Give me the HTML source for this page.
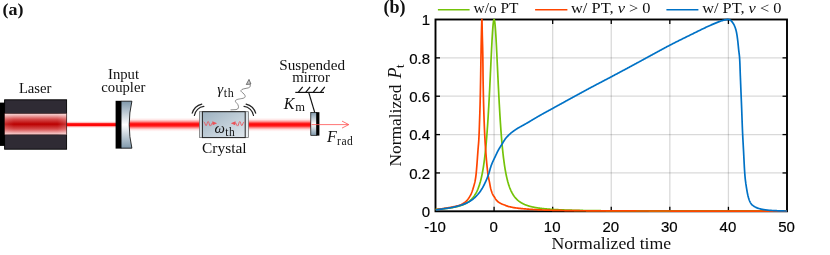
<!DOCTYPE html>
<html><head><meta charset="utf-8"><title>Figure</title>
<style>
html,body{margin:0;padding:0;background:#fff;}
svg{display:block;}
</style></head><body>
<svg width="830" height="255" viewBox="0 0 830 255">
<rect width="830" height="255" fill="#fff"/>
<defs>
<linearGradient id="tube" x1="0" y1="0" x2="0" y2="1">
<stop offset="0" stop-color="#f9dcdc"/><stop offset="0.1" stop-color="#eeaaaa"/><stop offset="0.27" stop-color="#d64c4c"/><stop offset="0.5" stop-color="#ba0000"/><stop offset="0.73" stop-color="#d64c4c"/><stop offset="0.9" stop-color="#eeaaaa"/><stop offset="1" stop-color="#f9dcdc"/>
</linearGradient>
<linearGradient id="tubeh" x1="0" y1="0" x2="1" y2="0">
<stop offset="0" stop-color="#fff" stop-opacity="0.15"/><stop offset="0.15" stop-color="#fff" stop-opacity="0"/><stop offset="0.85" stop-color="#fff" stop-opacity="0"/><stop offset="1" stop-color="#fff" stop-opacity="0.2"/>
</linearGradient>
<linearGradient id="beam" x1="0" y1="0" x2="0" y2="1">
<stop offset="0" stop-color="#ff0808" stop-opacity="0"/><stop offset="0.14" stop-color="#ff0808" stop-opacity="0.1"/><stop offset="0.28" stop-color="#ff0808" stop-opacity="0.45"/><stop offset="0.4" stop-color="#ff0808" stop-opacity="0.9"/><stop offset="0.5" stop-color="#ff0808" stop-opacity="1"/><stop offset="0.6" stop-color="#ff0808" stop-opacity="0.9"/><stop offset="0.72" stop-color="#ff0808" stop-opacity="0.45"/><stop offset="0.86" stop-color="#ff0808" stop-opacity="0.1"/><stop offset="1" stop-color="#ff0808" stop-opacity="0"/>
</linearGradient>
<linearGradient id="glass" x1="0" y1="0" x2="0" y2="1">
<stop offset="0" stop-color="#7f98ab"/><stop offset="0.5" stop-color="#ffffff"/><stop offset="1" stop-color="#7f98ab"/>
</linearGradient>
<linearGradient id="cryst" x1="0" y1="0" x2="1" y2="1">
<stop offset="0" stop-color="#9db1c0"/><stop offset="1" stop-color="#dfe7ed"/>
</linearGradient>
</defs>
<g id="diagram">
<!-- beams -->
<rect x="66" y="121" width="56" height="7.4" fill="url(#beam)"/>
<rect x="66" y="123.4" width="56" height="2.6" fill="#ff0808"/>
<rect x="129" y="117.7" width="183" height="14" fill="url(#beam)"/>
<!-- laser -->
<rect x="0" y="102.6" width="5" height="43.3" fill="#000"/>
<rect x="4.6" y="99.8" width="62" height="49.4" fill="#2f2b34" stroke="#000" stroke-width="0.9"/>
<rect x="4.6" y="113.5" width="62" height="21.3" fill="url(#tube)" stroke="#2a0000" stroke-width="0.5"/>
<rect x="4.6" y="113.5" width="62" height="21.3" fill="url(#tubeh)"/>
<!-- coupler -->
<path d="M121,101.2 L131.9,101.2 Q126.5,124.7 131.9,148.2 L121,148.2 Z" fill="url(#glass)" stroke="#000" stroke-width="0.8"/>
<rect x="115.6" y="100.8" width="5.5" height="47.8" fill="#000"/>
<!-- crystal -->
<rect x="199.5" y="111.7" width="49" height="25.9" fill="#fff"/>
<rect x="199.5" y="111.7" width="49" height="25.9" fill="url(#cryst)" fill-opacity="0.55" stroke="#666" stroke-width="0.7"/>
<rect x="202.4" y="111.7" width="42.8" height="25.9" fill="url(#cryst)" stroke="#222" stroke-width="1"/>
<g stroke="#ea5258" stroke-width="0.9" fill="none" stroke-linecap="round">
<path d="M204.1,121.9 C205,121.9 205.2,125.7 206.1,125.7 S207.2,121.5 208.1,121.5 S209.4,126.1 210.3,126.1 S211.5,122.2 212.7,122.8"/>
<path d="M243.8,121.9 C242.9,121.9 242.7,125.7 241.8,125.7 S240.7,121.5 239.8,121.5 S238.5,126.1 237.6,126.1 S236.4,122.2 235.2,122.8"/>
</g>
<path d="M212.3,121.2 L217.1,123.2 L212.7,125.3 Z" fill="#ea5258"/>
<path d="M235.6,121.2 L230.8,123.2 L235.2,125.3 Z" fill="#ea5258"/>
<g stroke="#222" stroke-width="1.2" fill="none" stroke-linecap="round">
<path d="M192.2,113.2 A13.3,13.3 0 0 1 201.8,104.1"/>
<path d="M194.4,115.5 A10.7,10.7 0 0 1 203.9,106.4"/>
<path d="M255.7,113.2 A13.3,13.3 0 0 0 246.1,104.1"/>
<path d="M253.5,115.5 A10.7,10.7 0 0 0 244.0,106.4"/>
</g>
<path d="M230.5,109.9 L236,109.6 C238.5,109.4 239.2,107 237.8,104.5 C236.8,102.8 235,102 235.4,100.8 C235.9,99.2 240,99 243,98.3 C245.6,97.6 245.8,96.2 244,94 C242.6,92.4 240.6,91.8 241,90.5 C241.5,88.8 245.5,88.6 248.3,87.9 C250.6,87.2 250.8,85.5 249.6,83.4" fill="none" stroke="#5a5a5a" stroke-width="0.7"/>
<path d="M246.3,84.5 L249,79.4 L250.9,84 Z" fill="#c8c8c8" stroke="#555" stroke-width="0.8" stroke-linejoin="round"/>
<!-- mirror -->
<rect x="310.8" y="112.5" width="6" height="22.8" fill="url(#glass)" stroke="#000" stroke-width="0.7"/>
<rect x="316.4" y="112.2" width="3" height="23.4" fill="#000"/>
<g stroke="#111" stroke-width="1.2" fill="none">
<line x1="295.3" y1="92.4" x2="324" y2="92.4"/>
<line x1="298.3" y1="92.4" x2="302.7" y2="86.8"/>
<line x1="305.7" y1="92.4" x2="310.1" y2="86.8"/>
<line x1="313.2" y1="92.4" x2="317.6" y2="86.8"/>
<line x1="320.4" y1="92.4" x2="324.8" y2="86.8"/>
<line x1="308.7" y1="92.4" x2="314.7" y2="112.3"/>
</g>
<g stroke="#ff5050" stroke-width="0.8" fill="none">
<line x1="311.5" y1="124.6" x2="348.6" y2="124.6"/>
<path d="M342,121.1 L348.8,124.6 L342,128.1"/>
</g>
<!-- labels -->
<g font-family="'Liberation Serif', 'Times New Roman', serif" fill="#111" font-size="14.7px">
<text x="2.4" y="14.7" font-size="17.5px" font-weight="bold" textLength="21" lengthAdjust="spacingAndGlyphs">(a)</text>
<text x="35.2" y="92.6" text-anchor="middle">Laser</text>
<text x="123.5" y="78.9" text-anchor="middle">Input</text>
<text x="123.3" y="91.7" text-anchor="middle">coupler</text>
<text x="224.3" y="152.5" text-anchor="middle" font-size="15.4px">Crystal</text>
<text x="312.1" y="69.6" text-anchor="middle" font-size="15.2px">Suspended</text>
<text x="311.1" y="82" text-anchor="middle">mirror</text>
<text x="217.3" y="94.2" font-size="15px"><tspan font-style="italic">γ</tspan><tspan dy="2.6" dx="0.6" font-size="12px" letter-spacing="0.7">th</tspan></text>
<text x="214.4" y="132.6" font-size="15px"><tspan font-style="italic" textLength="10.4" lengthAdjust="spacingAndGlyphs">ω</tspan><tspan dy="3" dx="0.5" font-size="11.5px" letter-spacing="0.6">th</tspan></text>
<text x="283.8" y="109.4" font-size="16px"><tspan font-style="italic">K</tspan><tspan dy="2" dx="0.8" font-size="12.5px">m</tspan></text>
<text x="326.9" y="142.3" font-size="16px"><tspan font-style="italic">F</tspan><tspan dy="2.4" dx="0.4" font-size="11.5px" letter-spacing="0.5">rad</tspan></text>
</g>
</g>


<g id="chart">
<g stroke="#000" stroke-opacity="0.15" stroke-width="1.3"><line x1="494.08" y1="19.5" x2="494.08" y2="211.3"/><line x1="552.67" y1="19.5" x2="552.67" y2="211.3"/><line x1="611.25" y1="19.5" x2="611.25" y2="211.3"/><line x1="669.83" y1="19.5" x2="669.83" y2="211.3"/><line x1="728.42" y1="19.5" x2="728.42" y2="211.3"/><line x1="435.5" y1="172.94" x2="787.0" y2="172.94"/><line x1="435.5" y1="134.58" x2="787.0" y2="134.58"/><line x1="435.5" y1="96.22" x2="787.0" y2="96.22"/><line x1="435.5" y1="57.86" x2="787.0" y2="57.86"/></g>
<rect x="435.5" y="19.5" width="351.50" height="191.80" fill="none" stroke="#000" stroke-width="1.9"/>
<g stroke="#000" stroke-width="1.3"><line x1="494.08" y1="211.3" x2="494.08" y2="206.8"/><line x1="494.08" y1="19.5" x2="494.08" y2="24.0"/><line x1="552.67" y1="211.3" x2="552.67" y2="206.8"/><line x1="552.67" y1="19.5" x2="552.67" y2="24.0"/><line x1="611.25" y1="211.3" x2="611.25" y2="206.8"/><line x1="611.25" y1="19.5" x2="611.25" y2="24.0"/><line x1="669.83" y1="211.3" x2="669.83" y2="206.8"/><line x1="669.83" y1="19.5" x2="669.83" y2="24.0"/><line x1="728.42" y1="211.3" x2="728.42" y2="206.8"/><line x1="728.42" y1="19.5" x2="728.42" y2="24.0"/><line x1="435.5" y1="172.94" x2="440.0" y2="172.94"/><line x1="787.0" y1="172.94" x2="782.5" y2="172.94"/><line x1="435.5" y1="134.58" x2="440.0" y2="134.58"/><line x1="787.0" y1="134.58" x2="782.5" y2="134.58"/><line x1="435.5" y1="96.22" x2="440.0" y2="96.22"/><line x1="787.0" y1="96.22" x2="782.5" y2="96.22"/><line x1="435.5" y1="57.86" x2="440.0" y2="57.86"/><line x1="787.0" y1="57.86" x2="782.5" y2="57.86"/></g>
<g fill="none" stroke-width="1.7" stroke-linejoin="round">
<path stroke="#74C309" d="M435.50,209.40 L435.73,209.39 L435.97,209.37 L436.20,209.36 L436.44,209.34 L436.67,209.32 L436.91,209.31 L437.14,209.29 L437.38,209.27 L437.61,209.26 L437.84,209.24 L438.08,209.22 L438.31,209.21 L438.55,209.19 L438.78,209.17 L439.02,209.15 L439.25,209.14 L439.49,209.12 L439.72,209.10 L439.96,209.08 L440.19,209.06 L440.42,209.04 L440.66,209.02 L440.89,209.00 L441.13,208.98 L441.36,208.96 L441.60,208.94 L441.83,208.92 L442.07,208.90 L442.30,208.88 L442.53,208.85 L442.77,208.83 L443.00,208.81 L443.24,208.79 L443.47,208.76 L443.71,208.74 L443.94,208.72 L444.18,208.69 L444.41,208.67 L444.65,208.64 L444.88,208.62 L445.11,208.59 L445.35,208.57 L445.58,208.54 L445.82,208.52 L446.05,208.49 L446.29,208.46 L446.52,208.43 L446.76,208.41 L446.99,208.38 L447.22,208.35 L447.46,208.32 L447.69,208.29 L447.93,208.26 L448.16,208.23 L448.40,208.20 L448.63,208.17 L448.87,208.13 L449.10,208.10 L449.33,208.07 L449.57,208.03 L449.80,208.00 L450.04,207.97 L450.27,207.93 L450.51,207.89 L450.74,207.86 L450.98,207.82 L451.21,207.78 L451.45,207.75 L451.68,207.71 L451.91,207.67 L452.15,207.63 L452.38,207.59 L452.62,207.55 L452.85,207.50 L453.09,207.46 L453.32,207.42 L453.56,207.37 L453.79,207.33 L454.02,207.28 L454.26,207.24 L454.49,207.19 L454.73,207.14 L454.96,207.09 L455.20,207.04 L455.43,206.99 L455.67,206.94 L455.90,206.89 L456.14,206.84 L456.37,206.78 L456.60,206.73 L456.84,206.67 L457.07,206.61 L457.31,206.55 L457.54,206.49 L457.78,206.43 L458.01,206.37 L458.25,206.31 L458.48,206.24 L458.71,206.18 L458.95,206.11 L459.18,206.04 L459.42,205.97 L459.65,205.90 L459.89,205.83 L460.12,205.76 L460.36,205.68 L460.59,205.61 L460.82,205.53 L461.06,205.45 L461.29,205.37 L461.53,205.28 L461.76,205.20 L462.00,205.11 L462.23,205.02 L462.47,204.93 L462.70,204.84 L462.94,204.75 L463.17,204.65 L463.40,204.55 L463.64,204.45 L463.87,204.35 L464.11,204.24 L464.34,204.14 L464.58,204.03 L464.81,203.91 L465.05,203.80 L465.28,203.68 L465.51,203.56 L465.75,203.44 L465.98,203.31 L466.22,203.18 L466.45,203.05 L466.69,202.91 L466.92,202.77 L467.16,202.63 L467.39,202.49 L467.63,202.34 L467.86,202.18 L468.09,202.03 L468.33,201.86 L468.56,201.70 L468.80,201.53 L469.03,201.35 L469.27,201.18 L469.50,200.99 L469.74,200.80 L469.97,200.61 L470.20,200.41 L470.44,200.21 L470.67,200.00 L470.91,199.78 L471.14,199.56 L471.38,199.33 L471.61,199.09 L471.85,198.85 L472.08,198.60 L472.31,198.35 L472.55,198.08 L472.78,197.81 L473.02,197.53 L473.25,197.24 L473.49,196.94 L473.72,196.64 L473.96,196.32 L474.19,195.99 L474.43,195.66 L474.66,195.31 L474.89,194.95 L475.13,194.58 L475.36,194.19 L475.60,193.79 L475.83,193.38 L476.07,192.96 L476.30,192.52 L476.54,192.07 L476.77,191.60 L477.00,191.11 L477.24,190.60 L477.47,190.08 L477.71,189.54 L477.94,188.97 L478.18,188.39 L478.41,187.78 L478.65,187.16 L478.88,186.50 L479.12,185.82 L479.35,185.12 L479.58,184.38 L479.82,183.62 L480.05,182.82 L480.29,182.00 L480.52,181.14 L480.76,180.24 L480.99,179.30 L481.23,178.33 L481.46,177.31 L481.69,176.25 L481.93,175.14 L482.16,173.98 L482.40,172.78 L482.63,171.51 L482.87,170.19 L483.10,168.81 L483.34,167.37 L483.57,165.85 L483.80,164.27 L484.04,162.61 L484.27,160.88 L484.51,159.06 L484.74,157.15 L484.98,155.15 L485.21,153.06 L485.45,150.86 L485.68,148.56 L485.92,146.15 L486.15,143.62 L486.38,140.97 L486.62,138.19 L486.85,135.28 L487.09,132.24 L487.32,129.05 L487.56,125.72 L487.79,122.24 L488.03,118.61 L488.26,114.82 L488.49,110.88 L488.73,106.79 L488.96,102.55 L489.20,98.17 L489.43,93.65 L489.67,89.00 L489.90,84.24 L490.14,79.39 L490.37,74.46 L490.61,69.49 L490.84,64.51 L491.07,59.54 L491.31,54.64 L491.54,49.86 L491.78,45.23 L492.01,40.81 L492.25,36.67 L492.48,32.85 L492.72,29.42 L492.95,26.42 L493.18,23.91 L493.42,21.94 L493.65,20.53 L493.89,19.71 L494.12,19.51 L494.36,19.92 L494.59,20.93 L494.83,22.53 L495.06,24.69 L495.29,27.37 L495.53,30.51 L495.76,34.08 L496.00,38.02 L496.23,42.26 L496.47,46.75 L496.70,51.44 L496.94,56.27 L497.17,61.19 L497.41,66.17 L497.64,71.15 L497.87,76.11 L498.11,81.01 L498.34,85.84 L498.58,90.56 L498.81,95.17 L499.05,99.65 L499.28,103.98 L499.52,108.17 L499.75,112.21 L499.98,116.10 L500.22,119.83 L500.45,123.42 L500.69,126.85 L500.92,130.13 L501.16,133.27 L501.39,136.27 L501.63,139.13 L501.86,141.87 L502.10,144.48 L502.33,146.97 L502.56,149.34 L502.80,151.61 L503.03,153.77 L503.27,155.83 L503.50,157.80 L503.74,159.67 L503.97,161.46 L504.21,163.17 L504.44,164.81 L504.67,166.37 L504.91,167.85 L505.14,169.28 L505.38,170.64 L505.61,171.94 L505.85,173.18 L506.08,174.38 L506.32,175.52 L506.55,176.61 L506.78,177.66 L507.02,178.66 L507.25,179.62 L507.49,180.54 L507.72,181.43 L507.96,182.28 L508.19,183.09 L508.43,183.88 L508.66,184.63 L508.90,185.36 L509.13,186.05 L509.36,186.72 L509.60,187.37 L509.83,187.99 L510.07,188.59 L510.30,189.16 L510.54,189.72 L510.77,190.26 L511.01,190.77 L511.24,191.27 L511.47,191.75 L511.71,192.22 L511.94,192.67 L512.18,193.10 L512.41,193.52 L512.65,193.93 L512.88,194.32 L513.12,194.70 L513.35,195.07 L513.59,195.42 L513.82,195.77 L514.05,196.10 L514.29,196.43 L514.52,196.74 L514.76,197.04 L514.99,197.34 L515.23,197.62 L515.46,197.90 L515.70,198.17 L515.93,198.43 L516.16,198.69 L516.40,198.93 L516.63,199.17 L516.87,199.41 L517.10,199.63 L517.34,199.85 L517.57,200.07 L517.81,200.28 L518.04,200.48 L518.27,200.68 L518.51,200.87 L518.74,201.05 L518.98,201.24 L519.21,201.41 L519.45,201.59 L519.68,201.75 L519.92,201.92 L520.15,202.08 L520.39,202.23 L520.62,202.39 L520.85,202.53 L521.09,202.68 L521.32,202.82 L521.56,202.96 L521.79,203.09 L522.03,203.22 L522.26,203.35 L522.50,203.48 L522.73,203.60 L522.96,203.72 L523.20,203.84 L523.43,203.95 L523.67,204.06 L523.90,204.17 L524.14,204.28 L524.37,204.38 L524.61,204.49 L524.84,204.59 L525.08,204.68 L525.31,204.78 L525.54,204.87 L525.78,204.96 L526.01,205.05 L526.25,205.14 L526.48,205.23 L526.72,205.31 L526.95,205.39 L527.19,205.48 L527.42,205.55 L527.65,205.63 L527.89,205.71 L528.12,205.78 L528.36,205.86 L528.59,205.93 L528.83,206.00 L529.06,206.07 L529.30,206.13 L529.53,206.20 L529.76,206.27 L530.00,206.33 L530.23,206.39 L530.47,206.45 L530.70,206.51 L530.94,206.57 L531.17,206.63 L531.41,206.69 L531.64,206.74 L531.88,206.80 L532.11,206.85 L532.34,206.91 L532.58,206.96 L532.81,207.01 L533.05,207.06 L533.28,207.11 L533.52,207.16 L533.75,207.21 L533.99,207.25 L534.22,207.30 L534.45,207.34 L534.69,207.39 L534.92,207.43 L535.16,207.48 L535.39,207.52 L535.63,207.56 L535.86,207.60 L536.10,207.64 L536.33,207.68 L536.57,207.72 L536.80,207.76 L537.03,207.80 L537.27,207.83 L537.50,207.87 L537.74,207.91 L537.97,207.94 L538.21,207.98 L538.44,208.01 L538.68,208.05 L538.91,208.08 L539.14,208.11 L539.38,208.14 L539.61,208.18 L539.85,208.21 L540.08,208.24 L540.32,208.27 L540.55,208.30 L540.79,208.33 L541.02,208.36 L541.25,208.39 L541.49,208.41 L541.72,208.44 L541.96,208.47 L542.19,208.50 L542.43,208.52 L542.66,208.55 L542.90,208.58 L543.13,208.60 L543.37,208.63 L543.60,208.65 L543.83,208.68 L544.07,208.70 L544.30,208.73 L544.54,208.75 L544.77,208.77 L545.01,208.79 L545.24,208.82 L545.48,208.84 L545.71,208.86 L545.94,208.88 L546.18,208.90 L546.41,208.93 L546.65,208.95 L546.88,208.97 L547.12,208.99 L547.35,209.01 L547.59,209.03 L547.82,209.05 L548.06,209.07 L548.29,209.09 L548.52,209.10 L548.76,209.12 L548.99,209.14 L549.23,209.16 L549.46,209.18 L549.70,209.20 L549.93,209.21 L550.17,209.23 L550.40,209.25 L550.63,209.26 L550.87,209.28 L551.10,209.30 L551.34,209.31 L551.57,209.33 L551.81,209.34 L552.04,209.36 L552.28,209.38 L552.51,209.39 L552.74,209.41 L552.98,209.42 L553.21,209.44 L553.45,209.45 L553.68,209.46 L553.92,209.48 L554.15,209.49 L554.39,209.51 L554.62,209.52 L554.86,209.53 L555.09,209.55 L555.32,209.56 L555.56,209.57 L555.79,209.59 L556.03,209.60 L556.26,209.61 L556.50,209.62 L556.73,209.64 L556.97,209.65 L557.20,209.66 L557.43,209.67 L557.67,209.69 L557.90,209.70 L558.14,209.71 L558.37,209.72 L558.61,209.73 L558.84,209.74 L559.08,209.75 L559.31,209.77 L559.55,209.78 L559.78,209.79 L560.01,209.80 L560.25,209.81 L560.48,209.82 L560.72,209.83 L560.95,209.84 L561.19,209.85 L561.42,209.86 L561.66,209.87 L561.89,209.88 L562.12,209.89 L562.36,209.90 L562.59,209.91 L562.83,209.92 L563.06,209.93 L563.30,209.94 L563.53,209.94 L563.77,209.95 L564.00,209.96 L564.23,209.97 L564.47,209.98 L564.70,209.99 L564.94,210.00 L565.17,210.01 L565.41,210.01 L565.64,210.02 L565.88,210.03 L566.11,210.04 L566.35,210.05 L566.58,210.06 L566.81,210.06 L567.05,210.07 L567.28,210.08 L567.52,210.09 L567.75,210.09 L567.99,210.10 L568.22,210.11 L568.46,210.12 L568.69,210.12 L568.92,210.13 L569.16,210.14 L569.39,210.15 L569.63,210.15 L569.86,210.16 L570.10,210.17 L570.33,210.17 L570.57,210.18 L570.80,210.19 L571.04,210.19 L571.27,210.20 L571.50,210.21 L571.74,210.21 L571.97,210.22 L572.21,210.23 L572.44,210.23 L572.68,210.24 L572.91,210.25 L573.15,210.25 L573.38,210.26 L573.61,210.26 L573.85,210.27 L574.08,210.28 L574.32,210.28 L574.55,210.29 L574.79,210.29 L575.02,210.30 L575.26,210.31 L575.49,210.31 L575.72,210.32 L575.96,210.32 L576.19,210.33 L576.43,210.33 L576.66,210.34 L576.90,210.34 L577.13,210.35 L577.37,210.36 L577.60,210.36 L577.84,210.37 L578.07,210.37 L578.30,210.38 L578.54,210.38 L578.77,210.39 L579.01,210.39 L579.24,210.40 L579.48,210.40 L579.71,210.41 L579.95,210.41 L580.18,210.42 L580.41,210.42 L580.65,210.43 L580.88,210.43 L581.12,210.43 L581.35,210.44 L581.59,210.44 L581.82,210.45 L582.06,210.45 L582.29,210.46 L582.53,210.46 L582.76,210.47 L582.99,210.47 L583.23,210.48 L583.46,210.48 L583.70,210.48 L583.93,210.49 L584.17,210.49 L584.40,210.50 L584.64,210.50 L584.87,210.50 L585.10,210.51 L585.34,210.51 L585.57,210.52 L585.81,210.52 L586.04,210.52 L586.28,210.53 L586.51,210.53 L586.75,210.54 L586.98,210.54 L587.21,210.54 L587.45,210.55 L587.68,210.55 L587.92,210.56 L588.15,210.56 L588.39,210.56 L588.62,210.57 L588.86,210.57 L589.09,210.57 L589.33,210.58 L589.56,210.58 L589.79,210.58 L590.03,210.59 L590.26,210.59 L590.50,210.59 L590.73,210.60 L590.97,210.60 L591.20,210.60 L591.44,210.61 L591.67,210.61 L591.90,210.61 L592.14,210.62 L592.37,210.62 L592.61,210.62 L592.84,210.63 L593.08,210.63 L593.31,210.63 L593.55,210.64 L593.78,210.64 L594.02,210.64 L594.25,210.65 L594.48,210.65 L594.72,210.65 L594.95,210.66 L595.19,210.66 L595.42,210.66 L595.66,210.66 L595.89,210.67 L596.13,210.67 L596.36,210.67 L596.59,210.68 L596.83,210.68 L597.06,210.68 L597.30,210.68 L597.53,210.69 L597.77,210.69 L598.00,210.69 L598.24,210.70 L598.47,210.70 L598.70,210.70 L598.94,210.70 L599.17,210.71 L599.41,210.71 L599.64,210.71 L599.88,210.71 L600.11,210.72 L600.35,210.72 L600.58,210.72 L600.82,210.72 L601.05,210.73 L601.28,210.73 L601.52,210.73 L601.75,210.73 L601.99,210.74 L602.22,210.74 L602.46,210.74 L602.69,210.74 L602.93,210.75 L603.16,210.75 L603.39,210.75 L603.63,210.75 L603.86,210.76 L604.10,210.76 L604.33,210.76 L604.57,210.76 L604.80,210.76 L605.04,210.77 L605.27,210.77 L605.51,210.77 L605.74,210.77 L605.97,210.78 L606.21,210.78 L606.44,210.78 L606.68,210.78 L606.91,210.78 L607.15,210.79 L607.38,210.79 L607.62,210.79 L607.85,210.79 L608.08,210.79 L608.32,210.80 L608.55,210.80 L608.79,210.80 L609.02,210.80 L609.26,210.81 L609.49,210.81 L609.73,210.81 L609.96,210.81 L610.19,210.81 L610.43,210.81 L610.66,210.82 L610.90,210.82 L611.13,210.82 L611.37,210.82 L611.60,210.82 L611.84,210.83 L612.07,210.83 L612.31,210.83 L612.54,210.83 L612.77,210.83 L613.01,210.84 L613.24,210.84 L613.48,210.84 L613.71,210.84 L613.95,210.84 L614.18,210.84 L614.42,210.85 L614.65,210.85 L614.88,210.85 L615.12,210.85 L615.35,210.85 L615.59,210.86 L615.82,210.86 L616.06,210.86 L616.29,210.86 L616.53,210.86 L616.76,210.86 L616.99,210.87 L617.23,210.87 L617.46,210.87 L617.70,210.87 L617.93,210.87 L618.17,210.87 L618.40,210.88 L618.64,210.88 L618.87,210.88 L619.11,210.88 L619.34,210.88 L619.57,210.88 L619.81,210.88 L620.04,210.89 L620.28,210.89 L620.51,210.89 L620.75,210.89 L620.98,210.89 L621.22,210.89 L621.45,210.90 L621.68,210.90 L621.92,210.90 L622.15,210.90 L622.39,210.90 L622.62,210.90 L622.86,210.90 L623.09,210.91 L623.33,210.91 L623.56,210.91 L623.80,210.91 L624.03,210.91 L624.26,210.91 L624.50,210.91 L624.73,210.92 L624.97,210.92 L625.20,210.92 L625.44,210.92 L625.67,210.92 L625.91,210.92 L626.14,210.92 L626.37,210.92 L626.61,210.93 L626.84,210.93 L627.08,210.93 L627.31,210.93 L627.55,210.93 L627.78,210.93 L628.02,210.93 L628.25,210.94 L628.48,210.94 L628.72,210.94 L628.95,210.94 L629.19,210.94 L629.42,210.94 L629.66,210.94 L629.89,210.94 L630.13,210.94 L630.36,210.95 L630.60,210.95 L630.83,210.95 L631.06,210.95 L631.30,210.95 L631.53,210.95 L631.77,210.95 L632.00,210.95 L632.24,210.96 L632.47,210.96 L632.71,210.96 L632.94,210.96 L633.17,210.96 L633.41,210.96 L633.64,210.96 L633.88,210.96 L634.11,210.96 L634.35,210.97 L634.58,210.97 L634.82,210.97 L635.05,210.97 L635.29,210.97 L635.52,210.97 L635.75,210.97 L635.99,210.97 L636.22,210.97 L636.46,210.98 L636.69,210.98 L636.93,210.98 L637.16,210.98 L637.40,210.98 L637.63,210.98 L637.86,210.98 L638.10,210.98 L638.33,210.98 L638.57,210.99 L638.80,210.99 L639.04,210.99 L639.27,210.99 L639.51,210.99 L639.74,210.99 L639.97,210.99 L640.21,210.99 L640.44,210.99 L640.68,210.99 L640.91,211.00 L641.15,211.00 L641.38,211.00 L641.62,211.00 L641.85,211.00 L642.09,211.00 L642.32,211.00 L642.55,211.00 L642.79,211.00 L643.02,211.00 L643.26,211.00 L643.49,211.01 L643.73,211.01 L643.96,211.01 L644.20,211.01 L644.43,211.01 L644.66,211.01 L644.90,211.01 L645.13,211.01 L645.37,211.01 L645.60,211.01 L645.84,211.01 L646.07,211.02 L646.31,211.02 L646.54,211.02 L646.78,211.02 L647.01,211.02 L647.24,211.02 L647.48,211.02 L647.71,211.02 L647.95,211.02 L648.18,211.02 L648.42,211.02 L648.65,211.02 L648.89,211.03 L649.12,211.03 L649.35,211.03 L649.59,211.03 L649.82,211.03 L650.06,211.03 L650.29,211.03 L650.53,211.03 L650.76,211.03 L651.00,211.03 L651.23,211.03 L651.46,211.03 L651.70,211.04 L651.93,211.04 L652.17,211.04 L652.40,211.04 L652.64,211.04 L652.87,211.04 L653.11,211.04 L653.34,211.04 L653.58,211.04 L653.81,211.04 L654.04,211.04 L654.28,211.04 L654.51,211.04 L654.75,211.05 L654.98,211.05 L655.22,211.05 L655.45,211.05 L655.69,211.05 L655.92,211.05 L656.15,211.05 L656.39,211.05 L656.62,211.05 L656.86,211.05 L657.09,211.05 L657.33,211.05 L657.56,211.05 L657.80,211.05 L658.03,211.06 L658.27,211.06 L658.50,211.06 L658.73,211.06 L658.97,211.06 L659.20,211.06 L659.44,211.06 L659.67,211.06 L659.91,211.06 L660.14,211.06 L660.38,211.06 L660.61,211.06 L660.84,211.06 L661.08,211.06 L661.31,211.06 L661.55,211.07 L661.78,211.07 L662.02,211.07 L662.25,211.07 L662.49,211.07 L662.72,211.07 L662.95,211.07 L663.19,211.07 L663.42,211.07 L663.66,211.07 L663.89,211.07 L664.13,211.07 L664.36,211.07 L664.60,211.07 L664.83,211.07 L665.07,211.08 L665.30,211.08 L665.53,211.08 L665.77,211.08 L666.00,211.08 L666.24,211.08 L666.47,211.08 L666.71,211.08 L666.94,211.08 L667.18,211.08 L667.41,211.08 L667.64,211.08 L667.88,211.08 L668.11,211.08 L668.35,211.08 L668.58,211.08 L668.82,211.08 L669.05,211.09 L669.29,211.09 L669.52,211.09 L669.76,211.09 L669.99,211.09 L670.22,211.09 L670.46,211.09 L670.69,211.09 L670.93,211.09 L671.16,211.09 L671.40,211.09 L671.63,211.09 L671.87,211.09 L672.10,211.09 L672.33,211.09 L672.57,211.09 L672.80,211.09 L673.04,211.09 L673.27,211.10 L673.51,211.10 L673.74,211.10 L673.98,211.10 L674.21,211.10 L674.44,211.10 L674.68,211.10 L674.91,211.10 L675.15,211.10 L675.38,211.10 L675.62,211.10 L675.85,211.10 L676.09,211.10 L676.32,211.10 L676.56,211.10 L676.79,211.10 L677.02,211.10 L677.26,211.10 L677.49,211.10 L677.73,211.11 L677.96,211.11 L678.20,211.11 L678.43,211.11 L678.67,211.11 L678.90,211.11 L679.13,211.11 L679.37,211.11 L679.60,211.11 L679.84,211.11 L680.07,211.11 L680.31,211.11 L680.54,211.11 L680.78,211.11 L681.01,211.11 L681.25,211.11 L681.48,211.11 L681.71,211.11 L681.95,211.11 L682.18,211.11 L682.42,211.11 L682.65,211.12 L682.89,211.12 L683.12,211.12 L683.36,211.12 L683.59,211.12 L683.82,211.12 L684.06,211.12 L684.29,211.12 L684.53,211.12 L684.76,211.12 L685.00,211.12 L685.23,211.12 L685.47,211.12 L685.70,211.12 L685.93,211.12 L686.17,211.12 L686.40,211.12 L686.64,211.12 L686.87,211.12 L687.11,211.12 L687.34,211.12 L687.58,211.12 L687.81,211.12 L688.05,211.13 L688.28,211.13 L688.51,211.13 L688.75,211.13 L688.98,211.13 L689.22,211.13 L689.45,211.13 L689.69,211.13 L689.92,211.13 L690.16,211.13 L690.39,211.13 L690.62,211.13 L690.86,211.13 L691.09,211.13 L691.33,211.13 L691.56,211.13 L691.80,211.13 L692.03,211.13 L692.27,211.13 L692.50,211.13 L692.74,211.13 L692.97,211.13 L693.20,211.13 L693.44,211.13 L693.67,211.13 L693.91,211.14 L694.14,211.14 L694.38,211.14 L694.61,211.14 L694.85,211.14 L695.08,211.14 L695.31,211.14 L695.55,211.14 L695.78,211.14 L696.02,211.14 L696.25,211.14 L696.49,211.14 L696.72,211.14 L696.96,211.14 L697.19,211.14 L697.42,211.14 L697.66,211.14 L697.89,211.14 L698.13,211.14 L698.36,211.14 L698.60,211.14 L698.83,211.14 L699.07,211.14 L699.30,211.14 L699.54,211.14 L699.77,211.14 L700.00,211.14 L700.24,211.15 L700.47,211.15 L700.71,211.15 L700.94,211.15 L701.18,211.15 L701.41,211.15 L701.65,211.15 L701.88,211.15 L702.11,211.15 L702.35,211.15 L702.58,211.15 L702.82,211.15 L703.05,211.15 L703.29,211.15 L703.52,211.15 L703.76,211.15 L703.99,211.15 L704.23,211.15 L704.46,211.15 L704.69,211.15 L704.93,211.15 L705.16,211.15 L705.40,211.15 L705.63,211.15 L705.87,211.15 L706.10,211.15 L706.34,211.15 L706.57,211.15 L706.80,211.15 L707.04,211.15 L707.27,211.16 L707.51,211.16 L707.74,211.16 L707.98,211.16 L708.21,211.16 L708.45,211.16 L708.68,211.16 L708.91,211.16 L709.15,211.16 L709.38,211.16 L709.62,211.16 L709.85,211.16 L710.09,211.16 L710.32,211.16 L710.56,211.16 L710.79,211.16 L711.03,211.16 L711.26,211.16 L711.49,211.16 L711.73,211.16 L711.96,211.16 L712.20,211.16 L712.43,211.16 L712.67,211.16 L712.90,211.16 L713.14,211.16 L713.37,211.16 L713.60,211.16 L713.84,211.16 L714.07,211.16 L714.31,211.16 L714.54,211.16 L714.78,211.16 L715.01,211.17 L715.25,211.17 L715.48,211.17 L715.72,211.17 L715.95,211.17 L716.18,211.17 L716.42,211.17 L716.65,211.17 L716.89,211.17 L717.12,211.17 L717.36,211.17 L717.59,211.17 L717.83,211.17 L718.06,211.17 L718.29,211.17 L718.53,211.17 L718.76,211.17 L719.00,211.17 L719.23,211.17 L719.47,211.17 L719.70,211.17 L719.94,211.17 L720.17,211.17 L720.40,211.17 L720.64,211.17 L720.87,211.17 L721.11,211.17 L721.34,211.17 L721.58,211.17 L721.81,211.17 L722.05,211.17 L722.28,211.17 L722.52,211.17 L722.75,211.17 L722.98,211.17 L723.22,211.17 L723.45,211.17 L723.69,211.18 L723.92,211.18 L724.16,211.18 L724.39,211.18 L724.63,211.18 L724.86,211.18 L725.09,211.18 L725.33,211.18 L725.56,211.18 L725.80,211.18 L726.03,211.18 L726.27,211.18 L726.50,211.18 L726.74,211.18 L726.97,211.18 L727.21,211.18 L727.44,211.18 L727.67,211.18 L727.91,211.18 L728.14,211.18 L728.38,211.18 L728.61,211.18 L728.85,211.18 L729.08,211.18 L729.32,211.18 L729.55,211.18 L729.78,211.18 L730.02,211.18 L730.25,211.18 L730.49,211.18 L730.72,211.18 L730.96,211.18 L731.19,211.18 L731.43,211.18 L731.66,211.18 L731.89,211.18 L732.13,211.18 L732.36,211.18 L732.60,211.18 L732.83,211.18 L733.07,211.18 L733.30,211.19 L733.54,211.19 L733.77,211.19 L734.01,211.19 L734.24,211.19 L734.47,211.19 L734.71,211.19 L734.94,211.19 L735.18,211.19 L735.41,211.19 L735.65,211.19 L735.88,211.19 L736.12,211.19 L736.35,211.19 L736.58,211.19 L736.82,211.19 L737.05,211.19 L737.29,211.19 L737.52,211.19 L737.76,211.19 L737.99,211.19 L738.23,211.19 L738.46,211.19 L738.70,211.19 L738.93,211.19 L739.16,211.19 L739.40,211.19 L739.63,211.19 L739.87,211.19 L740.10,211.19 L740.34,211.19 L740.57,211.19 L740.81,211.19 L741.04,211.19 L741.27,211.19 L741.51,211.19 L741.74,211.19 L741.98,211.19 L742.21,211.19 L742.45,211.19 L742.68,211.19 L742.92,211.19 L743.15,211.19 L743.38,211.19 L743.62,211.19 L743.85,211.19 L744.09,211.19 L744.32,211.19 L744.56,211.20 L744.79,211.20 L745.03,211.20 L745.26,211.20 L745.50,211.20 L745.73,211.20 L745.96,211.20 L746.20,211.20 L746.43,211.20 L746.67,211.20 L746.90,211.20 L747.14,211.20 L747.37,211.20 L747.61,211.20 L747.84,211.20 L748.07,211.20 L748.31,211.20 L748.54,211.20 L748.78,211.20 L749.01,211.20 L749.25,211.20 L749.48,211.20 L749.72,211.20 L749.95,211.20 L750.19,211.20 L750.42,211.20 L750.65,211.20 L750.89,211.20 L751.12,211.20 L751.36,211.20 L751.59,211.20 L751.83,211.20 L752.06,211.20 L752.30,211.20 L752.53,211.20 L752.76,211.20 L753.00,211.20 L753.23,211.20 L753.47,211.20 L753.70,211.20 L753.94,211.20 L754.17,211.20 L754.41,211.20 L754.64,211.20 L754.87,211.20 L755.11,211.20 L755.34,211.20 L755.58,211.20 L755.81,211.20 L756.05,211.20 L756.28,211.20 L756.52,211.20 L756.75,211.20 L756.99,211.20 L757.22,211.20 L757.45,211.21 L757.69,211.21 L757.92,211.21 L758.16,211.21 L758.39,211.21 L758.63,211.21 L758.86,211.21 L759.10,211.21 L759.33,211.21 L759.56,211.21 L759.80,211.21 L760.03,211.21 L760.27,211.21 L760.50,211.21 L760.74,211.21 L760.97,211.21 L761.21,211.21 L761.44,211.21 L761.68,211.21 L761.91,211.21 L762.14,211.21 L762.38,211.21 L762.61,211.21 L762.85,211.21 L763.08,211.21 L763.32,211.21 L763.55,211.21 L763.79,211.21 L764.02,211.21 L764.25,211.21 L764.49,211.21 L764.72,211.21 L764.96,211.21 L765.19,211.21 L765.43,211.21 L765.66,211.21 L765.90,211.21 L766.13,211.21 L766.36,211.21 L766.60,211.21 L766.83,211.21 L767.07,211.21 L767.30,211.21 L767.54,211.21 L767.77,211.21 L768.01,211.21 L768.24,211.21 L768.48,211.21 L768.71,211.21 L768.94,211.21 L769.18,211.21 L769.41,211.21 L769.65,211.21 L769.88,211.21 L770.12,211.21 L770.35,211.21 L770.59,211.21 L770.82,211.21 L771.05,211.21 L771.29,211.21 L771.52,211.21 L771.76,211.21 L771.99,211.21 L772.23,211.21 L772.46,211.22 L772.70,211.22 L772.93,211.22 L773.17,211.22 L773.40,211.22 L773.63,211.22 L773.87,211.22 L774.10,211.22 L774.34,211.22 L774.57,211.22 L774.81,211.22 L775.04,211.22 L775.28,211.22 L775.51,211.22 L775.74,211.22 L775.98,211.22 L776.21,211.22 L776.45,211.22 L776.68,211.22 L776.92,211.22 L777.15,211.22 L777.39,211.22 L777.62,211.22 L777.85,211.22 L778.09,211.22 L778.32,211.22 L778.56,211.22 L778.79,211.22 L779.03,211.22 L779.26,211.22 L779.50,211.22 L779.73,211.22 L779.97,211.22 L780.20,211.22 L780.43,211.22 L780.67,211.22 L780.90,211.22 L781.14,211.22 L781.37,211.22 L781.61,211.22 L781.84,211.22 L782.08,211.22 L782.31,211.22 L782.54,211.22 L782.78,211.22 L783.01,211.22 L783.25,211.22 L783.48,211.22 L783.72,211.22 L783.95,211.22 L784.19,211.22 L784.42,211.22 L784.66,211.22 L784.89,211.22 L785.12,211.22 L785.36,211.22 L785.59,211.22 L785.83,211.22 L786.06,211.22 L786.30,211.22 L786.53,211.22 L786.77,211.22 L787.00,211.22"/>
<path stroke="#FF4500" d="M435.80,209.60 L436.56,209.50 L437.32,209.39 L438.09,209.28 L438.85,209.18 L439.61,209.07 L440.37,208.96 L441.13,208.84 L441.89,208.73 L442.65,208.61 L443.41,208.50 L444.17,208.38 L444.93,208.27 L445.69,208.15 L446.45,208.04 L447.21,207.92 L447.97,207.80 L448.73,207.68 L449.49,207.55 L450.25,207.42 L451.00,207.28 L451.76,207.13 L452.51,206.98 L453.27,206.82 L454.03,206.66 L454.80,206.49 L455.56,206.32 L456.32,206.14 L457.07,205.94 L457.81,205.74 L458.55,205.52 L459.26,205.28 L459.97,205.03 L460.65,204.75 L461.34,204.44 L462.03,204.09 L462.71,203.70 L463.39,203.28 L464.04,202.83 L464.69,202.36 L465.30,201.87 L465.89,201.36 L466.45,200.85 L466.97,200.33 L467.46,199.79 L467.94,199.21 L468.40,198.60 L468.85,197.97 L469.28,197.31 L469.69,196.63 L470.08,195.95 L470.46,195.25 L470.81,194.55 L471.14,193.86 L471.45,193.17 L471.74,192.47 L472.02,191.76 L472.28,191.04 L472.53,190.31 L472.78,189.58 L473.01,188.84 L473.24,188.10 L473.46,187.36 L473.67,186.61 L473.88,185.87 L474.09,185.13 L474.30,184.39 L474.50,183.64 L474.69,182.90 L474.86,182.15 L475.02,181.40 L475.16,180.64 L475.30,179.89 L475.43,179.13 L475.55,178.37 L475.66,177.61 L475.77,176.84 L475.87,176.08 L475.96,175.32 L476.05,174.55 L476.13,173.79 L476.21,173.03 L476.29,172.26 L476.36,171.50 L476.43,170.73 L476.50,169.96 L476.56,169.20 L476.62,168.43 L476.69,167.66 L476.75,166.90 L476.81,166.13 L476.87,165.36 L476.93,164.60 L476.99,163.83 L477.05,163.06 L477.11,162.30 L477.17,161.53 L477.23,160.76 L477.28,160.00 L477.34,159.23 L477.39,158.46 L477.44,157.70 L477.50,156.93 L477.55,156.16 L477.61,155.40 L477.66,154.63 L477.72,153.86 L477.77,153.10 L477.83,152.33 L477.88,151.56 L477.94,150.79 L478.00,150.03 L478.06,149.26 L478.12,148.50 L478.19,147.73 L478.25,146.96 L478.32,146.20 L478.39,145.43 L478.46,144.66 L478.52,143.90 L478.58,143.13 L478.64,142.37 L478.70,141.60 L478.75,140.83 L478.80,140.06 L478.84,139.30 L478.88,138.53 L478.92,137.76 L478.96,136.99 L478.99,136.23 L479.03,135.46 L479.06,134.69 L479.10,133.92 L479.13,133.15 L479.16,132.39 L479.19,131.62 L479.22,130.85 L479.25,130.08 L479.28,129.31 L479.31,128.54 L479.33,127.78 L479.36,127.01 L479.39,126.24 L479.41,125.47 L479.44,124.70 L479.47,123.93 L479.49,123.16 L479.52,122.40 L479.54,121.63 L479.57,120.86 L479.60,120.09 L479.62,119.32 L479.65,118.55 L479.68,117.79 L479.70,117.02 L479.73,116.25 L479.75,115.48 L479.78,114.71 L479.80,113.94 L479.83,113.17 L479.85,112.41 L479.88,111.64 L479.90,110.87 L479.92,110.10 L479.95,109.33 L479.97,108.56 L479.99,107.79 L480.01,107.03 L480.04,106.26 L480.06,105.49 L480.08,104.72 L480.10,103.95 L480.12,103.18 L480.14,102.41 L480.16,101.65 L480.18,100.88 L480.20,100.11 L480.22,99.34 L480.23,98.57 L480.25,97.80 L480.27,97.03 L480.29,96.27 L480.30,95.50 L480.32,94.73 L480.34,93.96 L480.35,93.19 L480.37,92.42 L480.38,91.65 L480.40,90.88 L480.41,90.12 L480.43,89.35 L480.44,88.58 L480.46,87.81 L480.47,87.04 L480.49,86.27 L480.50,85.50 L480.51,84.74 L480.53,83.97 L480.54,83.20 L480.56,82.43 L480.57,81.66 L480.58,80.89 L480.60,80.12 L480.61,79.35 L480.62,78.59 L480.64,77.82 L480.65,77.05 L480.66,76.28 L480.68,75.51 L480.69,74.74 L480.70,73.97 L480.71,73.20 L480.72,72.43 L480.74,71.67 L480.75,70.90 L480.76,70.13 L480.77,69.36 L480.78,68.59 L480.80,67.82 L480.81,67.05 L480.82,66.28 L480.83,65.52 L480.84,64.75 L480.85,63.98 L480.87,63.21 L480.88,62.44 L480.89,61.67 L480.90,60.90 L480.91,60.13 L480.93,59.37 L480.94,58.60 L480.95,57.83 L480.96,57.06 L480.98,56.29 L480.99,55.52 L481.00,54.75 L481.02,53.98 L481.03,53.22 L481.05,52.45 L481.06,51.68 L481.07,50.91 L481.09,50.14 L481.10,49.37 L481.11,48.60 L481.13,47.83 L481.14,47.07 L481.16,46.30 L481.17,45.53 L481.19,44.76 L481.20,43.99 L481.22,43.22 L481.23,42.45 L481.25,41.68 L481.26,40.92 L481.28,40.15 L481.30,39.38 L481.31,38.61 L481.33,37.84 L481.35,37.07 L481.37,36.30 L481.39,35.54 L481.41,34.76 L481.43,33.94 L481.45,33.05 L481.47,32.12 L481.49,31.14 L481.52,30.14 L481.54,29.12 L481.57,28.09 L481.59,27.08 L481.62,26.08 L481.65,25.10 L481.67,24.17 L481.70,23.29 L481.73,22.47 L481.75,21.72 L481.78,21.06 L481.81,20.49 L481.83,20.03 L481.85,19.69 L481.88,19.47 L481.90,19.40 L481.92,19.47 L481.94,19.69 L481.96,20.03 L481.98,20.49 L482.01,21.06 L482.03,21.73 L482.04,22.47 L482.06,23.29 L482.08,24.18 L482.10,25.11 L482.12,26.08 L482.14,27.09 L482.16,28.10 L482.18,29.13 L482.20,30.15 L482.22,31.15 L482.24,32.12 L482.26,33.06 L482.27,33.95 L482.29,34.77 L482.31,35.54 L482.33,36.31 L482.35,37.08 L482.37,37.85 L482.40,38.62 L482.42,39.39 L482.44,40.15 L482.46,40.92 L482.48,41.69 L482.50,42.46 L482.52,43.23 L482.54,44.00 L482.57,44.77 L482.59,45.54 L482.61,46.30 L482.63,47.07 L482.65,47.84 L482.67,48.61 L482.68,49.38 L482.70,50.15 L482.72,50.92 L482.74,51.68 L482.75,52.45 L482.77,53.22 L482.78,53.99 L482.80,54.76 L482.81,55.53 L482.82,56.30 L482.83,57.06 L482.84,57.83 L482.85,58.60 L482.86,59.37 L482.87,60.14 L482.88,60.91 L482.89,61.68 L482.90,62.45 L482.91,63.22 L482.92,63.98 L482.93,64.75 L482.93,65.52 L482.94,66.29 L482.95,67.06 L482.96,67.83 L482.97,68.60 L482.97,69.37 L482.98,70.13 L482.99,70.90 L483.00,71.67 L483.00,72.44 L483.01,73.21 L483.02,73.98 L483.03,74.75 L483.04,75.52 L483.05,76.29 L483.06,77.05 L483.07,77.82 L483.08,78.59 L483.09,79.36 L483.10,80.13 L483.11,80.90 L483.13,81.67 L483.14,82.44 L483.15,83.20 L483.16,83.97 L483.18,84.74 L483.19,85.51 L483.21,86.28 L483.22,87.05 L483.23,87.82 L483.25,88.59 L483.26,89.35 L483.28,90.12 L483.30,90.89 L483.31,91.66 L483.33,92.43 L483.34,93.20 L483.36,93.97 L483.38,94.74 L483.40,95.50 L483.41,96.27 L483.43,97.04 L483.45,97.81 L483.47,98.58 L483.48,99.35 L483.50,100.12 L483.52,100.88 L483.54,101.65 L483.56,102.42 L483.58,103.19 L483.60,103.96 L483.62,104.73 L483.64,105.50 L483.66,106.26 L483.68,107.03 L483.71,107.80 L483.73,108.57 L483.75,109.34 L483.77,110.11 L483.80,110.88 L483.82,111.64 L483.84,112.41 L483.87,113.18 L483.89,113.95 L483.92,114.72 L483.94,115.49 L483.97,116.26 L484.00,117.02 L484.02,117.79 L484.05,118.56 L484.08,119.33 L484.10,120.10 L484.13,120.87 L484.16,121.63 L484.19,122.40 L484.22,123.17 L484.25,123.94 L484.28,124.71 L484.31,125.48 L484.34,126.24 L484.37,127.01 L484.40,127.78 L484.44,128.55 L484.47,129.32 L484.51,130.08 L484.54,130.85 L484.58,131.62 L484.61,132.39 L484.65,133.16 L484.68,133.93 L484.72,134.69 L484.76,135.46 L484.80,136.23 L484.84,137.00 L484.88,137.76 L484.92,138.53 L484.96,139.30 L485.00,140.07 L485.05,140.83 L485.09,141.60 L485.14,142.37 L485.18,143.14 L485.23,143.90 L485.28,144.67 L485.33,145.44 L485.38,146.21 L485.44,146.97 L485.49,147.74 L485.54,148.51 L485.60,149.27 L485.66,150.04 L485.71,150.81 L485.77,151.58 L485.83,152.34 L485.89,153.11 L485.95,153.88 L486.01,154.64 L486.08,155.41 L486.14,156.17 L486.20,156.94 L486.27,157.71 L486.33,158.47 L486.40,159.24 L486.46,160.00 L486.53,160.77 L486.60,161.54 L486.67,162.30 L486.73,163.07 L486.81,163.84 L486.88,164.60 L486.95,165.37 L487.03,166.13 L487.11,166.90 L487.19,167.66 L487.27,168.43 L487.35,169.19 L487.44,169.96 L487.53,170.72 L487.62,171.48 L487.71,172.25 L487.81,173.01 L487.91,173.77 L488.02,174.53 L488.14,175.29 L488.27,176.05 L488.40,176.80 L488.54,177.56 L488.68,178.32 L488.83,179.07 L488.99,179.82 L489.15,180.57 L489.32,181.33 L489.48,182.08 L489.62,182.83 L489.76,183.59 L489.89,184.35 L490.02,185.11 L490.16,185.87 L490.30,186.63 L490.45,187.38 L490.61,188.13 L490.79,188.87 L490.99,189.61 L491.20,190.36 L491.43,191.10 L491.68,191.84 L491.94,192.57 L492.22,193.29 L492.52,194.00 L492.84,194.68 L493.20,195.35 L493.64,195.98 L494.11,196.59 L494.55,197.23 L494.95,197.89 L495.34,198.57 L495.74,199.23 L496.16,199.87 L496.63,200.45 L497.17,200.99 L497.76,201.50 L498.37,201.98 L498.99,202.42 L499.64,202.85 L500.31,203.24 L500.98,203.59 L501.68,203.91 L502.39,204.20 L503.11,204.47 L503.83,204.74 L504.55,205.02 L505.27,205.31 L505.97,205.63 L506.68,205.93 L507.41,206.15 L508.14,206.37 L508.88,206.57 L509.63,206.76 L510.38,206.93 L511.13,207.10 L511.89,207.26 L512.65,207.40 L513.41,207.54 L514.17,207.67 L514.93,207.79 L515.68,207.90 L516.44,208.01 L517.21,208.11 L517.97,208.21 L518.73,208.30 L519.50,208.39 L520.26,208.47 L521.03,208.55 L521.80,208.63 L522.56,208.70 L523.33,208.77 L524.09,208.83 L524.86,208.90 L525.62,208.96 L526.39,209.02 L527.16,209.08 L527.92,209.14 L528.69,209.20 L529.46,209.26 L530.22,209.31 L530.99,209.37 L531.76,209.42 L532.53,209.47 L533.29,209.52 L534.06,209.57 L534.83,209.61 L535.60,209.66 L536.37,209.70 L537.13,209.74 L537.90,209.78 L538.67,209.82 L539.44,209.85 L540.21,209.88 L540.97,209.92 L541.74,209.95 L542.51,209.98 L543.28,210.00 L544.05,210.03 L544.81,210.06 L545.58,210.09 L546.35,210.11 L547.12,210.14 L547.89,210.16 L548.66,210.19 L549.43,210.21 L550.19,210.23 L550.96,210.25 L551.73,210.27 L552.50,210.29 L553.27,210.31 L554.04,210.33 L554.81,210.35 L555.58,210.36 L556.34,210.38 L557.11,210.39 L557.88,210.41 L558.65,210.42 L559.42,210.43 L560.19,210.45 L560.96,210.46 L561.72,210.47 L562.49,210.49 L563.26,210.50 L564.03,210.51 L564.80,210.53 L565.57,210.54 L566.34,210.55 L567.11,210.56 L567.88,210.57 L568.64,210.58 L569.41,210.60 L570.18,210.61 L570.95,210.62 L571.72,210.63 L572.49,210.64 L573.26,210.65 L574.03,210.66 L574.79,210.67 L575.56,210.68 L576.33,210.69 L577.10,210.69 L577.87,210.70 L578.64,210.71 L579.41,210.72 L580.18,210.73 L580.95,210.73 L581.71,210.74 L582.48,210.75 L583.25,210.76 L584.02,210.76 L584.79,210.77 L585.56,210.77 L586.33,210.78 L587.10,210.79 L587.86,210.79 L588.63,210.79 L589.40,210.80 L590.17,210.80 L590.94,210.81 L591.71,210.81 L592.48,210.82 L593.25,210.82 L594.02,210.82 L594.78,210.83 L595.55,210.83 L596.32,210.84 L597.09,210.84 L597.86,210.84 L598.63,210.85 L599.40,210.85 L600.17,210.85 L600.94,210.86 L601.70,210.86 L602.47,210.87 L603.24,210.87 L604.01,210.87 L604.78,210.88 L605.55,210.88 L606.32,210.88 L607.09,210.89 L607.85,210.89 L608.62,210.89 L609.39,210.89 L610.16,210.90 L610.93,210.90 L611.70,210.90 L612.47,210.91 L613.24,210.91 L614.01,210.91 L614.77,210.92 L615.54,210.92 L616.31,210.92 L617.08,210.92 L617.85,210.93 L618.62,210.93 L619.39,210.93 L620.16,210.93 L620.93,210.94 L621.69,210.94 L622.46,210.94 L623.23,210.94 L624.00,210.95 L624.77,210.95 L625.54,210.95 L626.31,210.95 L627.08,210.95 L627.85,210.96 L628.61,210.96 L629.38,210.96 L630.15,210.96 L630.92,210.96 L631.69,210.97 L632.46,210.97 L633.23,210.97 L634.00,210.97 L634.77,210.97 L635.53,210.97 L636.30,210.98 L637.07,210.98 L637.84,210.98 L638.61,210.98 L639.38,210.98 L640.15,210.98 L640.92,210.99 L641.68,210.99 L642.45,210.99 L643.22,210.99 L643.99,210.99 L644.76,210.99 L645.53,210.99 L646.30,210.99 L647.07,211.00 L647.84,211.00 L648.60,211.00 L649.37,211.00 L650.14,211.00 L650.91,211.00 L651.68,211.00 L652.45,211.00 L653.22,211.00 L653.99,211.01 L654.76,211.01 L655.52,211.01 L656.29,211.01 L657.06,211.01 L657.83,211.01 L658.60,211.01 L659.37,211.01 L660.14,211.01 L660.91,211.01 L661.68,211.01 L662.44,211.02 L663.21,211.02 L663.98,211.02 L664.75,211.02 L665.52,211.02 L666.29,211.02 L667.06,211.02 L667.83,211.02 L668.60,211.02 L669.36,211.02 L670.13,211.02 L670.90,211.03 L671.67,211.03 L672.44,211.03 L673.21,211.03 L673.98,211.03 L674.75,211.03 L675.51,211.03 L676.28,211.03 L677.05,211.03 L677.82,211.03 L678.59,211.03 L679.36,211.04 L680.13,211.04 L680.90,211.04 L681.67,211.04 L682.43,211.04 L683.20,211.04 L683.97,211.04 L684.74,211.04 L685.51,211.04 L686.28,211.04 L687.05,211.04 L687.82,211.04 L688.59,211.05 L689.35,211.05 L690.12,211.05 L690.89,211.05 L691.66,211.05 L692.43,211.05 L693.20,211.05 L693.97,211.05 L694.74,211.05 L695.51,211.05 L696.27,211.05 L697.04,211.05 L697.81,211.05 L698.58,211.06 L699.35,211.06 L700.12,211.06 L700.89,211.06 L701.66,211.06 L702.42,211.06 L703.19,211.06 L703.96,211.06 L704.73,211.06 L705.50,211.06 L706.27,211.06 L707.04,211.06 L707.81,211.06 L708.58,211.06 L709.34,211.06 L710.11,211.07 L710.88,211.07 L711.65,211.07 L712.42,211.07 L713.19,211.07 L713.96,211.07 L714.73,211.07 L715.50,211.07 L716.26,211.07 L717.03,211.07 L717.80,211.07 L718.57,211.07 L719.34,211.07 L720.11,211.07 L720.88,211.07 L721.65,211.07 L722.42,211.08 L723.18,211.08 L723.95,211.08 L724.72,211.08 L725.49,211.08 L726.26,211.08 L727.03,211.08 L727.80,211.08 L728.57,211.08 L729.34,211.08 L730.10,211.08 L730.87,211.08 L731.64,211.08 L732.41,211.08 L733.18,211.08 L733.95,211.08 L734.72,211.08 L735.49,211.08 L736.25,211.08 L737.02,211.08 L737.79,211.09 L738.56,211.09 L739.33,211.09 L740.10,211.09 L740.87,211.09 L741.64,211.09 L742.41,211.09 L743.17,211.09 L743.94,211.09 L744.71,211.09 L745.48,211.09 L746.25,211.09 L747.02,211.09 L747.79,211.09 L748.56,211.09 L749.33,211.09 L750.09,211.09 L750.86,211.09 L751.63,211.09 L752.40,211.09 L753.17,211.09 L753.94,211.09 L754.71,211.09 L755.48,211.09 L756.25,211.09 L757.01,211.09 L757.78,211.09 L758.55,211.09 L759.32,211.10 L760.09,211.10 L760.86,211.10 L761.63,211.10 L762.40,211.10 L763.17,211.10 L763.93,211.10 L764.70,211.10 L765.47,211.10 L766.24,211.10 L767.01,211.10 L767.78,211.10 L768.55,211.10 L769.32,211.10 L770.08,211.10 L770.85,211.10 L771.62,211.10 L772.39,211.10 L773.16,211.10 L773.93,211.10 L774.70,211.10 L775.47,211.10 L776.24,211.10 L777.00,211.10 L777.77,211.10 L778.54,211.10 L779.31,211.10 L780.08,211.10 L780.85,211.10 L781.62,211.10 L782.39,211.10 L783.16,211.10 L783.92,211.10 L784.69,211.10 L785.46,211.10 L786.23,211.10 L787.00,211.10"/>
<path stroke="#0072C6" d="M435.80,209.90 L436.45,209.81 L437.10,209.72 L437.74,209.62 L438.39,209.53 L439.04,209.44 L439.69,209.35 L440.33,209.25 L440.98,209.16 L441.63,209.06 L442.27,208.97 L442.92,208.87 L443.57,208.77 L444.22,208.68 L444.86,208.59 L445.51,208.50 L446.16,208.41 L446.81,208.31 L447.46,208.22 L448.11,208.13 L448.75,208.03 L449.40,207.93 L450.05,207.83 L450.69,207.72 L451.33,207.61 L451.97,207.49 L452.62,207.36 L453.26,207.23 L453.90,207.09 L454.54,206.95 L455.18,206.80 L455.81,206.65 L456.45,206.49 L457.09,206.32 L457.72,206.15 L458.35,205.98 L458.98,205.80 L459.60,205.61 L460.23,205.42 L460.85,205.23 L461.47,205.03 L462.09,204.82 L462.72,204.60 L463.34,204.37 L463.96,204.14 L464.57,203.90 L465.19,203.65 L465.79,203.40 L466.39,203.13 L466.99,202.86 L467.57,202.58 L468.15,202.29 L468.72,201.99 L469.27,201.68 L469.83,201.35 L470.38,201.00 L470.93,200.63 L471.47,200.25 L472.00,199.86 L472.53,199.46 L473.05,199.05 L473.56,198.62 L474.07,198.20 L474.56,197.76 L475.04,197.32 L475.52,196.89 L475.98,196.44 L476.44,195.98 L476.89,195.50 L477.33,195.02 L477.77,194.53 L478.20,194.02 L478.62,193.51 L479.03,193.00 L479.44,192.47 L479.83,191.95 L480.21,191.42 L480.58,190.89 L480.94,190.35 L481.29,189.81 L481.64,189.25 L481.98,188.70 L482.32,188.13 L482.64,187.56 L482.97,186.99 L483.28,186.41 L483.59,185.83 L483.90,185.25 L484.20,184.66 L484.49,184.08 L484.78,183.49 L485.06,182.90 L485.34,182.31 L485.62,181.72 L485.88,181.12 L486.15,180.52 L486.41,179.92 L486.66,179.32 L486.91,178.71 L487.16,178.10 L487.40,177.49 L487.63,176.88 L487.86,176.27 L488.09,175.65 L488.31,175.04 L488.53,174.42 L488.74,173.80 L488.93,173.18 L489.13,172.56 L489.31,171.93 L489.49,171.30 L489.67,170.67 L489.85,170.03 L490.02,169.40 L490.20,168.77 L490.38,168.14 L490.57,167.51 L490.76,166.89 L490.96,166.27 L491.17,165.65 L491.40,165.04 L491.63,164.43 L491.87,163.83 L492.12,163.23 L492.38,162.63 L492.64,162.03 L492.91,161.43 L493.19,160.84 L493.47,160.24 L493.75,159.65 L494.04,159.06 L494.32,158.47 L494.61,157.88 L494.89,157.29 L495.17,156.70 L495.45,156.10 L495.73,155.51 L496.00,154.92 L496.28,154.32 L496.55,153.73 L496.83,153.13 L497.11,152.54 L497.40,151.96 L497.69,151.37 L497.99,150.79 L498.30,150.22 L498.62,149.65 L498.94,149.08 L499.27,148.52 L499.61,147.96 L499.96,147.40 L500.30,146.84 L500.65,146.29 L501.00,145.74 L501.35,145.18 L501.70,144.63 L502.04,144.07 L502.38,143.51 L502.72,142.94 L503.05,142.38 L503.39,141.81 L503.73,141.25 L504.08,140.70 L504.44,140.16 L504.81,139.62 L505.20,139.10 L505.59,138.58 L506.00,138.07 L506.42,137.57 L506.85,137.07 L507.29,136.58 L507.73,136.09 L508.18,135.62 L508.64,135.16 L509.11,134.71 L509.59,134.26 L510.07,133.82 L510.57,133.39 L511.07,132.97 L511.58,132.55 L512.09,132.14 L512.61,131.74 L513.13,131.35 L513.66,130.97 L514.19,130.59 L514.73,130.21 L515.27,129.85 L515.82,129.49 L516.37,129.13 L516.92,128.78 L517.48,128.44 L518.04,128.10 L518.60,127.76 L519.17,127.44 L519.74,127.12 L520.31,126.81 L520.89,126.49 L521.46,126.18 L522.04,125.87 L522.61,125.56 L523.19,125.24 L523.76,124.92 L524.33,124.60 L524.90,124.28 L525.46,123.95 L526.03,123.62 L526.60,123.30 L527.16,122.97 L527.73,122.64 L528.29,122.31 L528.86,121.98 L529.42,121.65 L529.98,121.31 L530.55,120.98 L531.11,120.64 L531.67,120.30 L532.23,119.96 L532.79,119.63 L533.35,119.29 L533.91,118.95 L534.47,118.62 L535.03,118.28 L535.59,117.95 L536.16,117.62 L536.72,117.29 L537.29,116.96 L537.85,116.63 L538.42,116.30 L538.99,115.98 L539.56,115.65 L540.12,115.33 L540.69,115.01 L541.26,114.69 L541.83,114.37 L542.40,114.05 L542.98,113.73 L543.55,113.41 L544.12,113.10 L544.69,112.78 L545.27,112.46 L545.84,112.15 L546.41,111.83 L546.99,111.52 L547.56,111.21 L548.14,110.89 L548.71,110.58 L549.28,110.26 L549.86,109.95 L550.43,109.64 L551.00,109.32 L551.58,109.01 L552.15,108.69 L552.72,108.38 L553.30,108.06 L553.87,107.74 L554.44,107.43 L555.02,107.11 L555.59,106.80 L556.16,106.48 L556.74,106.17 L557.31,105.85 L557.88,105.53 L558.45,105.22 L559.03,104.90 L559.60,104.59 L560.17,104.27 L560.75,103.96 L561.32,103.64 L561.89,103.33 L562.47,103.01 L563.04,102.69 L563.61,102.38 L564.18,102.06 L564.76,101.75 L565.33,101.43 L565.90,101.12 L566.48,100.80 L567.05,100.49 L567.62,100.17 L568.20,99.86 L568.77,99.54 L569.34,99.23 L569.92,98.92 L570.49,98.60 L571.07,98.29 L571.64,97.97 L572.21,97.66 L572.79,97.34 L573.36,97.03 L573.94,96.72 L574.51,96.40 L575.08,96.09 L575.66,95.78 L576.23,95.46 L576.81,95.15 L577.38,94.84 L577.95,94.52 L578.53,94.21 L579.10,93.90 L579.68,93.58 L580.25,93.27 L580.83,92.96 L581.40,92.64 L581.98,92.33 L582.55,92.02 L583.13,91.71 L583.70,91.40 L584.28,91.08 L584.85,90.77 L585.43,90.46 L586.00,90.15 L586.58,89.84 L587.15,89.53 L587.73,89.22 L588.30,88.91 L588.88,88.60 L589.46,88.29 L590.03,87.98 L590.61,87.67 L591.19,87.37 L591.77,87.06 L592.34,86.75 L592.92,86.45 L593.50,86.14 L594.08,85.84 L594.66,85.53 L595.24,85.23 L595.82,84.92 L596.39,84.62 L596.97,84.31 L597.55,84.01 L598.13,83.71 L598.71,83.40 L599.29,83.10 L599.87,82.80 L600.45,82.49 L601.03,82.19 L601.61,81.89 L602.19,81.59 L602.77,81.28 L603.35,80.98 L603.93,80.68 L604.51,80.37 L605.09,80.07 L605.67,79.77 L606.25,79.46 L606.83,79.16 L607.41,78.85 L607.99,78.55 L608.57,78.25 L609.14,77.94 L609.72,77.64 L610.30,77.33 L610.88,77.02 L611.46,76.72 L612.03,76.41 L612.61,76.10 L613.19,75.80 L613.77,75.49 L614.35,75.18 L614.92,74.87 L615.50,74.57 L616.08,74.26 L616.65,73.95 L617.23,73.64 L617.81,73.34 L618.39,73.03 L618.96,72.72 L619.54,72.41 L620.12,72.10 L620.69,71.80 L621.27,71.49 L621.85,71.18 L622.43,70.87 L623.00,70.56 L623.58,70.25 L624.16,69.94 L624.73,69.64 L625.31,69.33 L625.89,69.02 L626.46,68.71 L627.04,68.40 L627.61,68.09 L628.19,67.78 L628.77,67.47 L629.34,67.16 L629.92,66.85 L630.49,66.54 L631.07,66.23 L631.65,65.92 L632.22,65.61 L632.80,65.30 L633.37,64.99 L633.95,64.68 L634.53,64.37 L635.10,64.05 L635.68,63.74 L636.25,63.43 L636.83,63.12 L637.40,62.81 L637.98,62.50 L638.55,62.19 L639.13,61.87 L639.70,61.56 L640.28,61.25 L640.85,60.94 L641.43,60.62 L642.00,60.31 L642.57,59.99 L643.15,59.68 L643.72,59.36 L644.29,59.05 L644.87,58.74 L645.44,58.42 L646.02,58.11 L646.59,57.80 L647.16,57.48 L647.74,57.17 L648.31,56.86 L648.89,56.54 L649.46,56.23 L650.03,55.91 L650.61,55.60 L651.18,55.28 L651.76,54.97 L652.33,54.66 L652.90,54.34 L653.48,54.03 L654.05,53.71 L654.62,53.40 L655.20,53.08 L655.77,52.77 L656.35,52.46 L656.92,52.14 L657.50,51.83 L658.07,51.52 L658.64,51.20 L659.22,50.89 L659.79,50.58 L660.37,50.27 L660.94,49.96 L661.52,49.65 L662.10,49.34 L662.67,49.03 L663.25,48.72 L663.83,48.41 L664.40,48.10 L664.98,47.79 L665.56,47.48 L666.13,47.18 L666.71,46.87 L667.29,46.57 L667.87,46.26 L668.45,45.96 L669.03,45.65 L669.61,45.35 L670.19,45.05 L670.77,44.75 L671.35,44.45 L671.93,44.15 L672.51,43.85 L673.10,43.55 L673.68,43.26 L674.26,42.96 L674.85,42.67 L675.43,42.37 L676.01,42.08 L676.60,41.78 L677.18,41.49 L677.77,41.20 L678.35,40.90 L678.94,40.61 L679.52,40.32 L680.11,40.03 L680.70,39.74 L681.28,39.44 L681.87,39.15 L682.45,38.86 L683.04,38.57 L683.63,38.28 L684.21,37.99 L684.80,37.70 L685.38,37.41 L685.97,37.12 L686.56,36.83 L687.14,36.54 L687.73,36.26 L688.32,35.97 L688.91,35.68 L689.50,35.40 L690.08,35.11 L690.67,34.82 L691.26,34.53 L691.84,34.24 L692.43,33.95 L693.02,33.66 L693.60,33.37 L694.19,33.08 L694.77,32.79 L695.36,32.50 L695.95,32.21 L696.53,31.92 L697.12,31.63 L697.71,31.34 L698.29,31.05 L698.88,30.76 L699.47,30.48 L700.06,30.19 L700.64,29.90 L701.23,29.61 L701.82,29.33 L702.41,29.04 L703.00,28.75 L703.59,28.47 L704.17,28.18 L704.76,27.90 L705.36,27.62 L705.95,27.34 L706.54,27.07 L707.13,26.79 L707.73,26.52 L708.32,26.25 L708.92,25.97 L709.51,25.70 L710.11,25.43 L710.71,25.16 L711.30,24.90 L711.90,24.63 L712.50,24.37 L713.10,24.11 L713.71,23.86 L714.31,23.61 L714.91,23.36 L715.52,23.11 L716.13,22.87 L716.73,22.62 L717.34,22.38 L717.95,22.13 L718.56,21.90 L719.17,21.66 L719.79,21.44 L720.40,21.22 L721.02,21.01 L721.64,20.81 L722.27,20.62 L722.90,20.44 L723.53,20.26 L724.16,20.10 L724.80,19.95 L725.44,19.81 L726.08,19.68 L726.73,19.54 L727.38,19.44 L728.02,19.40 L728.67,19.49 L729.31,19.70 L729.91,19.96 L730.47,20.28 L730.99,20.70 L731.45,21.15 L731.88,21.63 L732.30,22.13 L732.71,22.67 L733.09,23.22 L733.44,23.78 L733.77,24.36 L734.07,24.93 L734.34,25.51 L734.60,26.10 L734.84,26.70 L735.08,27.31 L735.30,27.93 L735.51,28.56 L735.71,29.19 L735.89,29.83 L736.06,30.47 L736.22,31.11 L736.37,31.74 L736.50,32.38 L736.62,33.02 L736.74,33.66 L736.85,34.30 L736.96,34.95 L737.06,35.59 L737.16,36.24 L737.25,36.89 L737.34,37.54 L737.42,38.19 L737.51,38.85 L737.59,39.50 L737.67,40.15 L737.75,40.80 L737.83,41.44 L737.90,42.09 L737.97,42.74 L738.04,43.39 L738.10,44.05 L738.17,44.70 L738.23,45.35 L738.30,46.00 L738.36,46.65 L738.42,47.30 L738.49,47.95 L738.55,48.60 L738.62,49.25 L738.69,49.91 L738.76,50.56 L738.84,51.21 L738.92,51.86 L739.00,52.50 L739.09,53.15 L739.17,53.80 L739.25,54.45 L739.33,55.10 L739.40,55.75 L739.47,56.40 L739.53,57.05 L739.58,57.71 L739.62,58.36 L739.66,59.01 L739.70,59.66 L739.73,60.31 L739.77,60.97 L739.80,61.62 L739.83,62.27 L739.86,62.93 L739.89,63.58 L739.91,64.23 L739.94,64.89 L739.96,65.54 L739.99,66.19 L740.01,66.85 L740.03,67.50 L740.06,68.16 L740.08,68.81 L740.10,69.47 L740.12,70.12 L740.15,70.77 L740.17,71.43 L740.19,72.08 L740.21,72.74 L740.24,73.39 L740.26,74.04 L740.29,74.70 L740.31,75.35 L740.34,76.01 L740.37,76.66 L740.39,77.31 L740.42,77.97 L740.45,78.62 L740.47,79.27 L740.50,79.93 L740.52,80.58 L740.55,81.23 L740.58,81.89 L740.60,82.54 L740.63,83.20 L740.65,83.85 L740.68,84.50 L740.71,85.16 L740.73,85.81 L740.76,86.46 L740.78,87.12 L740.81,87.77 L740.84,88.42 L740.86,89.08 L740.89,89.73 L740.92,90.39 L740.94,91.04 L740.97,91.69 L741.00,92.35 L741.02,93.00 L741.05,93.65 L741.08,94.31 L741.10,94.96 L741.13,95.61 L741.16,96.27 L741.19,96.92 L741.21,97.57 L741.24,98.23 L741.27,98.88 L741.30,99.54 L741.32,100.19 L741.35,100.84 L741.38,101.50 L741.40,102.15 L741.43,102.80 L741.46,103.46 L741.48,104.11 L741.51,104.76 L741.54,105.42 L741.56,106.07 L741.59,106.73 L741.61,107.38 L741.64,108.03 L741.67,108.69 L741.69,109.34 L741.71,109.99 L741.74,110.65 L741.76,111.30 L741.79,111.95 L741.81,112.61 L741.83,113.26 L741.86,113.92 L741.88,114.57 L741.90,115.22 L741.93,115.88 L741.95,116.53 L741.97,117.19 L742.00,117.84 L742.02,118.49 L742.04,119.15 L742.06,119.80 L742.09,120.45 L742.11,121.11 L742.14,121.76 L742.16,122.42 L742.18,123.07 L742.21,123.72 L742.23,124.38 L742.26,125.03 L742.28,125.68 L742.31,126.34 L742.33,126.99 L742.36,127.64 L742.39,128.30 L742.41,128.95 L742.44,129.61 L742.47,130.26 L742.50,130.91 L742.53,131.57 L742.55,132.22 L742.58,132.87 L742.62,133.53 L742.65,134.18 L742.68,134.83 L742.71,135.49 L742.74,136.14 L742.78,136.79 L742.81,137.45 L742.85,138.10 L742.88,138.75 L742.91,139.41 L742.95,140.06 L742.98,140.71 L743.02,141.37 L743.06,142.02 L743.09,142.67 L743.13,143.32 L743.16,143.98 L743.20,144.63 L743.24,145.28 L743.27,145.94 L743.31,146.59 L743.34,147.24 L743.38,147.90 L743.41,148.55 L743.45,149.20 L743.49,149.86 L743.52,150.51 L743.56,151.16 L743.59,151.82 L743.62,152.47 L743.66,153.12 L743.69,153.78 L743.72,154.43 L743.76,155.08 L743.79,155.74 L743.82,156.39 L743.85,157.04 L743.88,157.70 L743.92,158.35 L743.95,159.00 L743.98,159.66 L744.01,160.31 L744.04,160.96 L744.07,161.62 L744.11,162.27 L744.14,162.92 L744.17,163.58 L744.21,164.23 L744.24,164.88 L744.28,165.54 L744.31,166.19 L744.35,166.84 L744.38,167.50 L744.42,168.15 L744.46,168.80 L744.50,169.46 L744.54,170.11 L744.58,170.76 L744.63,171.41 L744.67,172.07 L744.72,172.72 L744.77,173.37 L744.81,174.02 L744.87,174.68 L744.92,175.33 L744.97,175.98 L745.03,176.63 L745.09,177.28 L745.15,177.93 L745.22,178.59 L745.29,179.24 L745.36,179.88 L745.44,180.53 L745.52,181.18 L745.60,181.83 L745.69,182.48 L745.77,183.13 L745.87,183.78 L745.96,184.43 L746.06,185.07 L746.16,185.72 L746.26,186.37 L746.36,187.01 L746.46,187.66 L746.57,188.30 L746.67,188.95 L746.78,189.60 L746.89,190.24 L747.00,190.89 L747.11,191.54 L747.23,192.19 L747.35,192.83 L747.48,193.48 L747.61,194.12 L747.75,194.76 L747.89,195.40 L748.04,196.03 L748.21,196.66 L748.38,197.28 L748.56,197.91 L748.76,198.55 L748.97,199.20 L749.20,199.84 L749.44,200.48 L749.69,201.10 L749.96,201.71 L750.25,202.30 L750.56,202.85 L750.88,203.38 L751.22,203.87 L751.62,204.34 L752.08,204.80 L752.57,205.25 L753.11,205.68 L753.67,206.08 L754.24,206.45 L754.81,206.79 L755.38,207.09 L755.95,207.36 L756.54,207.62 L757.14,207.87 L757.76,208.10 L758.38,208.33 L759.02,208.53 L759.66,208.73 L760.30,208.90 L760.94,209.06 L761.58,209.20 L762.22,209.32 L762.85,209.43 L763.49,209.54 L764.14,209.64 L764.78,209.74 L765.43,209.84 L766.08,209.92 L766.73,210.01 L767.39,210.09 L768.04,210.16 L768.69,210.23 L769.35,210.29 L770.00,210.35 L770.66,210.40 L771.31,210.45 L771.96,210.49 L772.62,210.52 L773.27,210.56 L773.92,210.59 L774.57,210.63 L775.22,210.66 L775.88,210.69 L776.53,210.72 L777.18,210.75 L777.83,210.78 L778.49,210.81 L779.14,210.83 L779.79,210.86 L780.45,210.88 L781.10,210.90 L781.76,210.92 L782.41,210.94 L783.07,210.95 L783.72,210.97 L784.38,210.98 L785.03,210.99 L785.69,210.99 L786.34,211.00 L787.00,211.00"/>
</g>
<g font-family="'Liberation Sans', Arial, sans-serif" font-size="15px" fill="#000" stroke="#000" stroke-width="0.2"><text x="435.00" y="231.7" text-anchor="middle">-10</text><text x="493.58" y="231.7" text-anchor="middle">0</text><text x="552.17" y="231.7" text-anchor="middle">10</text><text x="610.75" y="231.7" text-anchor="middle">20</text><text x="669.33" y="231.7" text-anchor="middle">30</text><text x="727.92" y="231.7" text-anchor="middle">40</text><text x="786.50" y="231.7" text-anchor="middle">50</text><text x="430.1" y="217.20" text-anchor="end">0</text><text x="430.1" y="178.84" text-anchor="end">0.2</text><text x="430.1" y="140.48" text-anchor="end">0.4</text><text x="430.1" y="102.12" text-anchor="end">0.6</text><text x="430.1" y="63.76" text-anchor="end">0.8</text><text x="430.1" y="25.40" text-anchor="end">1</text></g>
<g font-family="'Liberation Serif', 'Times New Roman', serif" fill="#111">
<text x="551.5" y="249" font-size="16.5px" textLength="119.7" lengthAdjust="spacingAndGlyphs">Normalized time</text>
<g transform="translate(400.5,166.5) rotate(-90)"><text x="0" y="0" font-size="16.5px"><tspan textLength="82" lengthAdjust="spacingAndGlyphs">Normalized</tspan><tspan dx="6" font-style="italic" font-size="18px">P</tspan><tspan dy="3" dx="-0.5" font-size="12.5px">t</tspan></text></g>
<text x="473.5" y="13.3" font-size="14.5px" textLength="45" lengthAdjust="spacingAndGlyphs">w/o PT</text>
<text x="571" y="13.3" font-size="14.5px" textLength="79.6" lengthAdjust="spacingAndGlyphs">w/ PT, <tspan font-style="italic">v</tspan> &gt; 0</text>
<text x="702.2" y="13.3" font-size="14.5px" textLength="79.2" lengthAdjust="spacingAndGlyphs">w/ PT, <tspan font-style="italic">v</tspan> &lt; 0</text>
<text x="383.6" y="13.3" font-size="18px" font-weight="bold">(b)</text>
</g>
<g stroke-width="1.6" fill="none">
<line x1="437.9" y1="9.8" x2="469.6" y2="9.8" stroke="#74C309"/>
<line x1="535.1" y1="9.8" x2="567.4" y2="9.8" stroke="#FF4500"/>
<line x1="666.4" y1="9.8" x2="698.4" y2="9.8" stroke="#0072C6"/>
</g>
</g>

</svg>
</body></html>
